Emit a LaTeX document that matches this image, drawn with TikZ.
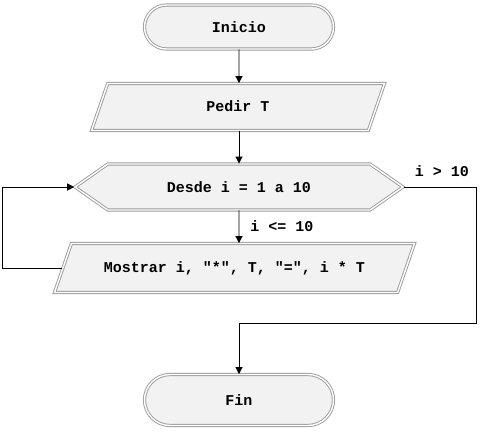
\documentclass[tikz,border=0pt]{standalone}
\usepackage{fontspec}
\setmonofont{Liberation Mono}
\usetikzlibrary{shapes.geometric,shapes.misc,shapes.symbols,arrows.meta}
\definecolor{bordergray}{RGB}{155,155,155}
\definecolor{boxfill}{RGB}{242,242,242}
\begin{document}
\begin{tikzpicture}[x=1pt,y=-1pt,
  txt/.style={font=\ttfamily\bfseries\fontsize{15}{18}\selectfont},
  base/.style={txt, draw=bordergray, double=white, double distance=1.4pt, line width=0.9pt, fill=boxfill, inner sep=0pt},
  term/.style={base, rounded rectangle, minimum width=189pt},
  io/.style={base, trapezium, trapezium left angle=71, trapezium right angle=109, trapezium stretches body, text height=11pt, text depth=3pt},
  loopbox/.style={base, signal, signal to=west and east, signal pointer angle=70},
  conn/.style={line width=0.9pt, -{Triangle[width=7pt,length=7pt]}},
  plain/.style={line width=0.9pt}
]
\path[use as bounding box, fill=white] (0,0) rectangle (496,434);
\node[term, minimum height=44pt] (inicio) at (239,27) {Inicio};
\node[io, minimum width=293pt, inner ysep=16.5pt] (pedir) at (238,107) {Pedir T};
\node[loopbox, minimum width=328pt, minimum height=46pt] (desde) at (239,187) {Desde i = 1 a 10};
\node[io, minimum width=360pt, inner ysep=17.5pt] (mostrar) at (234.5,268) {Mostrar i, "*", T, "=", i * T};
\node[term, minimum height=51pt] (fin) at (239,400) {Fin};
\node[txt] (lgt) at (442,171) {i > 10};
\node[txt] (lle) at (282,226) {i <= 10};
\coordinate (c1) at (2,187);
\coordinate (c2) at (476,187);
\coordinate (c3) at (476,323);
\coordinate (c4) at (239,323);
\draw[conn] (inicio) -- (inicio |- pedir.north);
\draw[conn] (inicio |- pedir.south) -- (inicio |- desde.north);
\draw[conn] (desde) -- (desde |- mostrar.north);
\draw[conn] (mostrar.west) -| (c1) -- (desde.west);
\draw[plain] (desde.east) -- (c2) -- (c3) -- (c4);
\draw[conn] (c4) -- (fin);
\end{tikzpicture}
\end{document}
